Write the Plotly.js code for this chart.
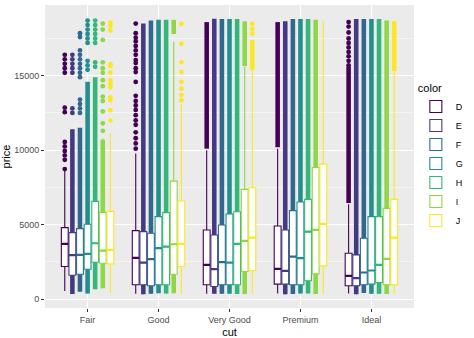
<!DOCTYPE html>
<html>
<head>
<meta charset="utf-8">
<script src="https://cdn.plot.ly/plotly-3.0.1.min.js"></script>
<style>html,body{margin:0;padding:0;background:#fff;}#chart{width:474px;height:338px;}</style>
</head>
<body>
<div id="chart"></div>
<script>
const cuts = ['Fair', 'Good', 'Very Good', 'Premium', 'Ideal'];
const colorLevels = ['D', 'E', 'F', 'G', 'H', 'I', 'J'];
const palette = ['#440154', '#443A83', '#31688E', '#21908C', '#35B779', '#8FD744', '#FDE725'];

// box statistics, one row per colour level (D..J), one value per cut
const q1 = [
  [2186, 958, 958, 1003, 891],
  [1605, 958, 846, 1003, 891],
  [1672, 891, 958, 958, 958],
  [2007, 958, 958, 958, 1003],
  [2476, 958, 958, 1226, 1114],
  [2409, 1672, 1851, 1695, 958],
  [2364, 2186, 1918, 2231, 958]
];
const medians = [
  [3704, 2766, 2297, 2030, 1561],
  [2945, 2453, 2007, 1896, 1405],
  [2967, 2679, 2476, 2855, 1784],
  [3034, 3416, 2453, 2744, 1918],
  [3749, 3525, 3704, 4530, 2297],
  [3257, 3682, 3905, 4642, 2699],
  [3302, 3704, 4128, 5044, 4128]
];
const q3 = [
  [4798, 4597, 4642, 4910, 3079],
  [4463, 4530, 4307, 4642, 2967],
  [4731, 4421, 4977, 5937, 4084],
  [5021, 5535, 5713, 6517, 5535],
  [6562, 5803, 5869, 6696, 5535],
  [5825, 7924, 7366, 8839, 6093],
  [5892, 6584, 7477, 9063, 6696]
];
const whiskerLo = [
  [536, 361, 357, 367, 367],
  [337, 327, 352, 326, 326],
  [496, 357, 357, 342, 408],
  [369, 394, 354, 382, 361],
  [659, 368, 337, 368, 357],
  [735, 394, 336, 334, 348],
  [416, 335, 336, 363, 340]
];
const whiskerHi = [
  [8600, 9780, 10000, 10100, 6360],
  [8700, 9850, 9500, 10100, 6300],
  [9000, 9700, 10900, 13300, 8700],
  [9500, 12400, 12800, 14800, 12300],
  [12100, 13000, 13200, 14900, 12100],
  [10800, 17300, 15600, 18700, 13800],
  [11150, 13100, 15700, 18700, 15250]
];

// stretches where the plotted points merge into a solid column: [from, to] per cut
const bands = [
  [[], [], [[10100, 18600]], [[10200, 18600]], [[6450, 15600]]],
  [[[337, 11400]], [[327, 18500]], [[352, 18820]], [[326, 18660]], [[326, 18800]]],
  [[[496, 11500]], [[357, 18700]], [[357, 18800]], [[342, 18800]], [[408, 18800]]],
  [[[369, 14600]], [[394, 18750]], [[354, 18800]], [[382, 18800]], [[361, 18800]]],
  [[[659, 14900]], [[368, 18750]], [[337, 18800]], [[368, 18800]], [[357, 18800]]],
  [[[735, 10700]], [[394, 1672], [17800, 18750]], [[336, 1851], [15650, 18650]], [[334, 18750]], [[348, 18700]]],
  [[], [], [[15400, 17400]], [], [[15300, 18660]]]
];

// separate points
const dots = [
  [[8728, 9350, 9650, 9950, 10250, 10550, 12550, 12850, 15200, 15500, 15800, 16100, 16400],
   [10100, 10450, 10800, 11200, 11700, 12000, 12350, 12700, 13000, 13300, 13650, 14580, 15250, 15500, 15850, 16050, 16400, 16700, 17000, 17300, 17550, 17850, 18500],
   [], [],
   [15700, 16000, 16300, 16600, 16900, 17200, 17500, 17900, 18300, 18600]],
  [[12500, 12800, 15200, 15500, 15800, 16100, 16400], [], [], [], []],
  [[12500, 12800, 13100, 13400, 14900, 15200, 15500, 15800, 16100, 16400, 16700, 17600, 17850], [], [], [], []],
  [[15400, 15700, 16000, 17200, 17500, 17800, 18100, 18400, 18700], [], [], [], []],
  [[15600, 15900, 17200, 17500, 17800, 18100, 18400, 18700], [], [], [], []],
  [[11300, 11800, 12600, 13300, 13600, 14300, 14700, 15200, 15500, 15900, 17400, 18100, 18500], [], [], [], []],
  [[11990, 12680, 13350, 13550, 14220, 14450, 14690, 15220, 15640, 15770, 18040, 18370, 18570],
   [13350, 13700, 14130, 14580, 15250, 15900, 17150, 18490],
   [17820, 18150, 18490], [], []]
];

const traces = [];
colorLevels.forEach((lv, k) => {
  const bx = [], bBase = [], bLen = [];
  bands[k].forEach((list, c) => {
    list.forEach(pair => { bx.push(cuts[c]); bBase.push(pair[0]); bLen.push(pair[1] - pair[0]); });
  });
  traces.push({
    type: 'bar', x: bx, base: bBase, y: bLen, offsetgroup: lv, legendgroup: lv,
    showlegend: false, hoverinfo: 'skip',
    marker: {color: palette[k], line: {width: 0}}
  });
});
colorLevels.forEach((lv, k) => {
  const dx = [], dy = [];
  dots[k].forEach((list, c) => { list.forEach(v => { dx.push(cuts[c]); dy.push(v); }); });
  traces.push({
    type: 'scatter', mode: 'markers', x: dx, y: dy, offsetgroup: lv, legendgroup: lv,
    showlegend: false, hoverinfo: 'skip',
    marker: {color: palette[k], size: 4.8, line: {width: 0}}
  });
});
colorLevels.forEach((lv, k) => {
  traces.push({
    type: 'box', name: lv, x: cuts, q1: q1[k], median: medians[k], q3: q3[k],
    lowerfence: whiskerLo[k], upperfence: whiskerHi[k], boxpoints: false,
    offsetgroup: lv, legendgroup: lv,
    fillcolor: 'white', line: {color: palette[k], width: 1.1}, whiskerwidth: 0
  });
  traces.push({
    type: 'box', name: lv, x: cuts, q1: medians[k], median: medians[k], q3: medians[k],
    lowerfence: medians[k], upperfence: medians[k], boxpoints: false,
    offsetgroup: lv, legendgroup: lv, showlegend: false, hoverinfo: 'skip',
    fillcolor: 'white', line: {color: palette[k], width: 2.2}, whiskerwidth: 0
  });
});

const layout = {
  width: 474, height: 338,
  margin: {l: 45, r: 54, t: 5, b: 30, pad: 0},
  paper_bgcolor: 'white', plot_bgcolor: '#EBEBEB',
  font: {family: 'Liberation Sans, Arial, sans-serif', size: 9, color: '#4D4D4D'},
  barmode: 'group', bargap: 0.25, bargroupgap: 0.4,
  boxmode: 'group', boxgap: 0.25, boxgroupgap: 0.1,
  scattermode: 'group', scattergap: 0.25,
  showlegend: true,
  legend: {
    x: 1.005, xanchor: 'left', y: 0.76, yanchor: 'top',
    title: {text: 'color', font: {size: 11, color: '#000'}},
    font: {size: 9, color: '#000'}, bgcolor: 'white', itemwidth: 30, traceorder: 'normal'
  },
  xaxis: {
    type: 'category', categoryorder: 'array', categoryarray: cuts, range: [-0.6, 4.6],
    showgrid: true, gridcolor: 'white', gridwidth: 1.1, zeroline: false, showline: false,
    ticks: 'outside', ticklen: 3, tickcolor: '#333333', tickwidth: 1,
    tickfont: {size: 9, color: '#4D4D4D'},
    title: {text: 'cut', font: {size: 11, color: '#000'}, standoff: 6}
  },
  yaxis: {
    range: [-599, 19748], tick0: 0, dtick: 5000, tickformat: 'd',
    showgrid: true, gridcolor: 'white', gridwidth: 1.1, zeroline: false, showline: false,
    ticks: 'outside', ticklen: 3, tickcolor: '#333333', tickwidth: 1,
    tickfont: {size: 9, color: '#4D4D4D'},
    minor: {tick0: 0, dtick: 2500, showgrid: true, gridcolor: 'white', gridwidth: 0.5},
    title: {text: 'price', font: {size: 11, color: '#000'}, standoff: 2}
  }
};

Plotly.newPlot('chart', traces, layout, {displayModeBar: false, staticPlot: true});
</script>
</body>
</html>
